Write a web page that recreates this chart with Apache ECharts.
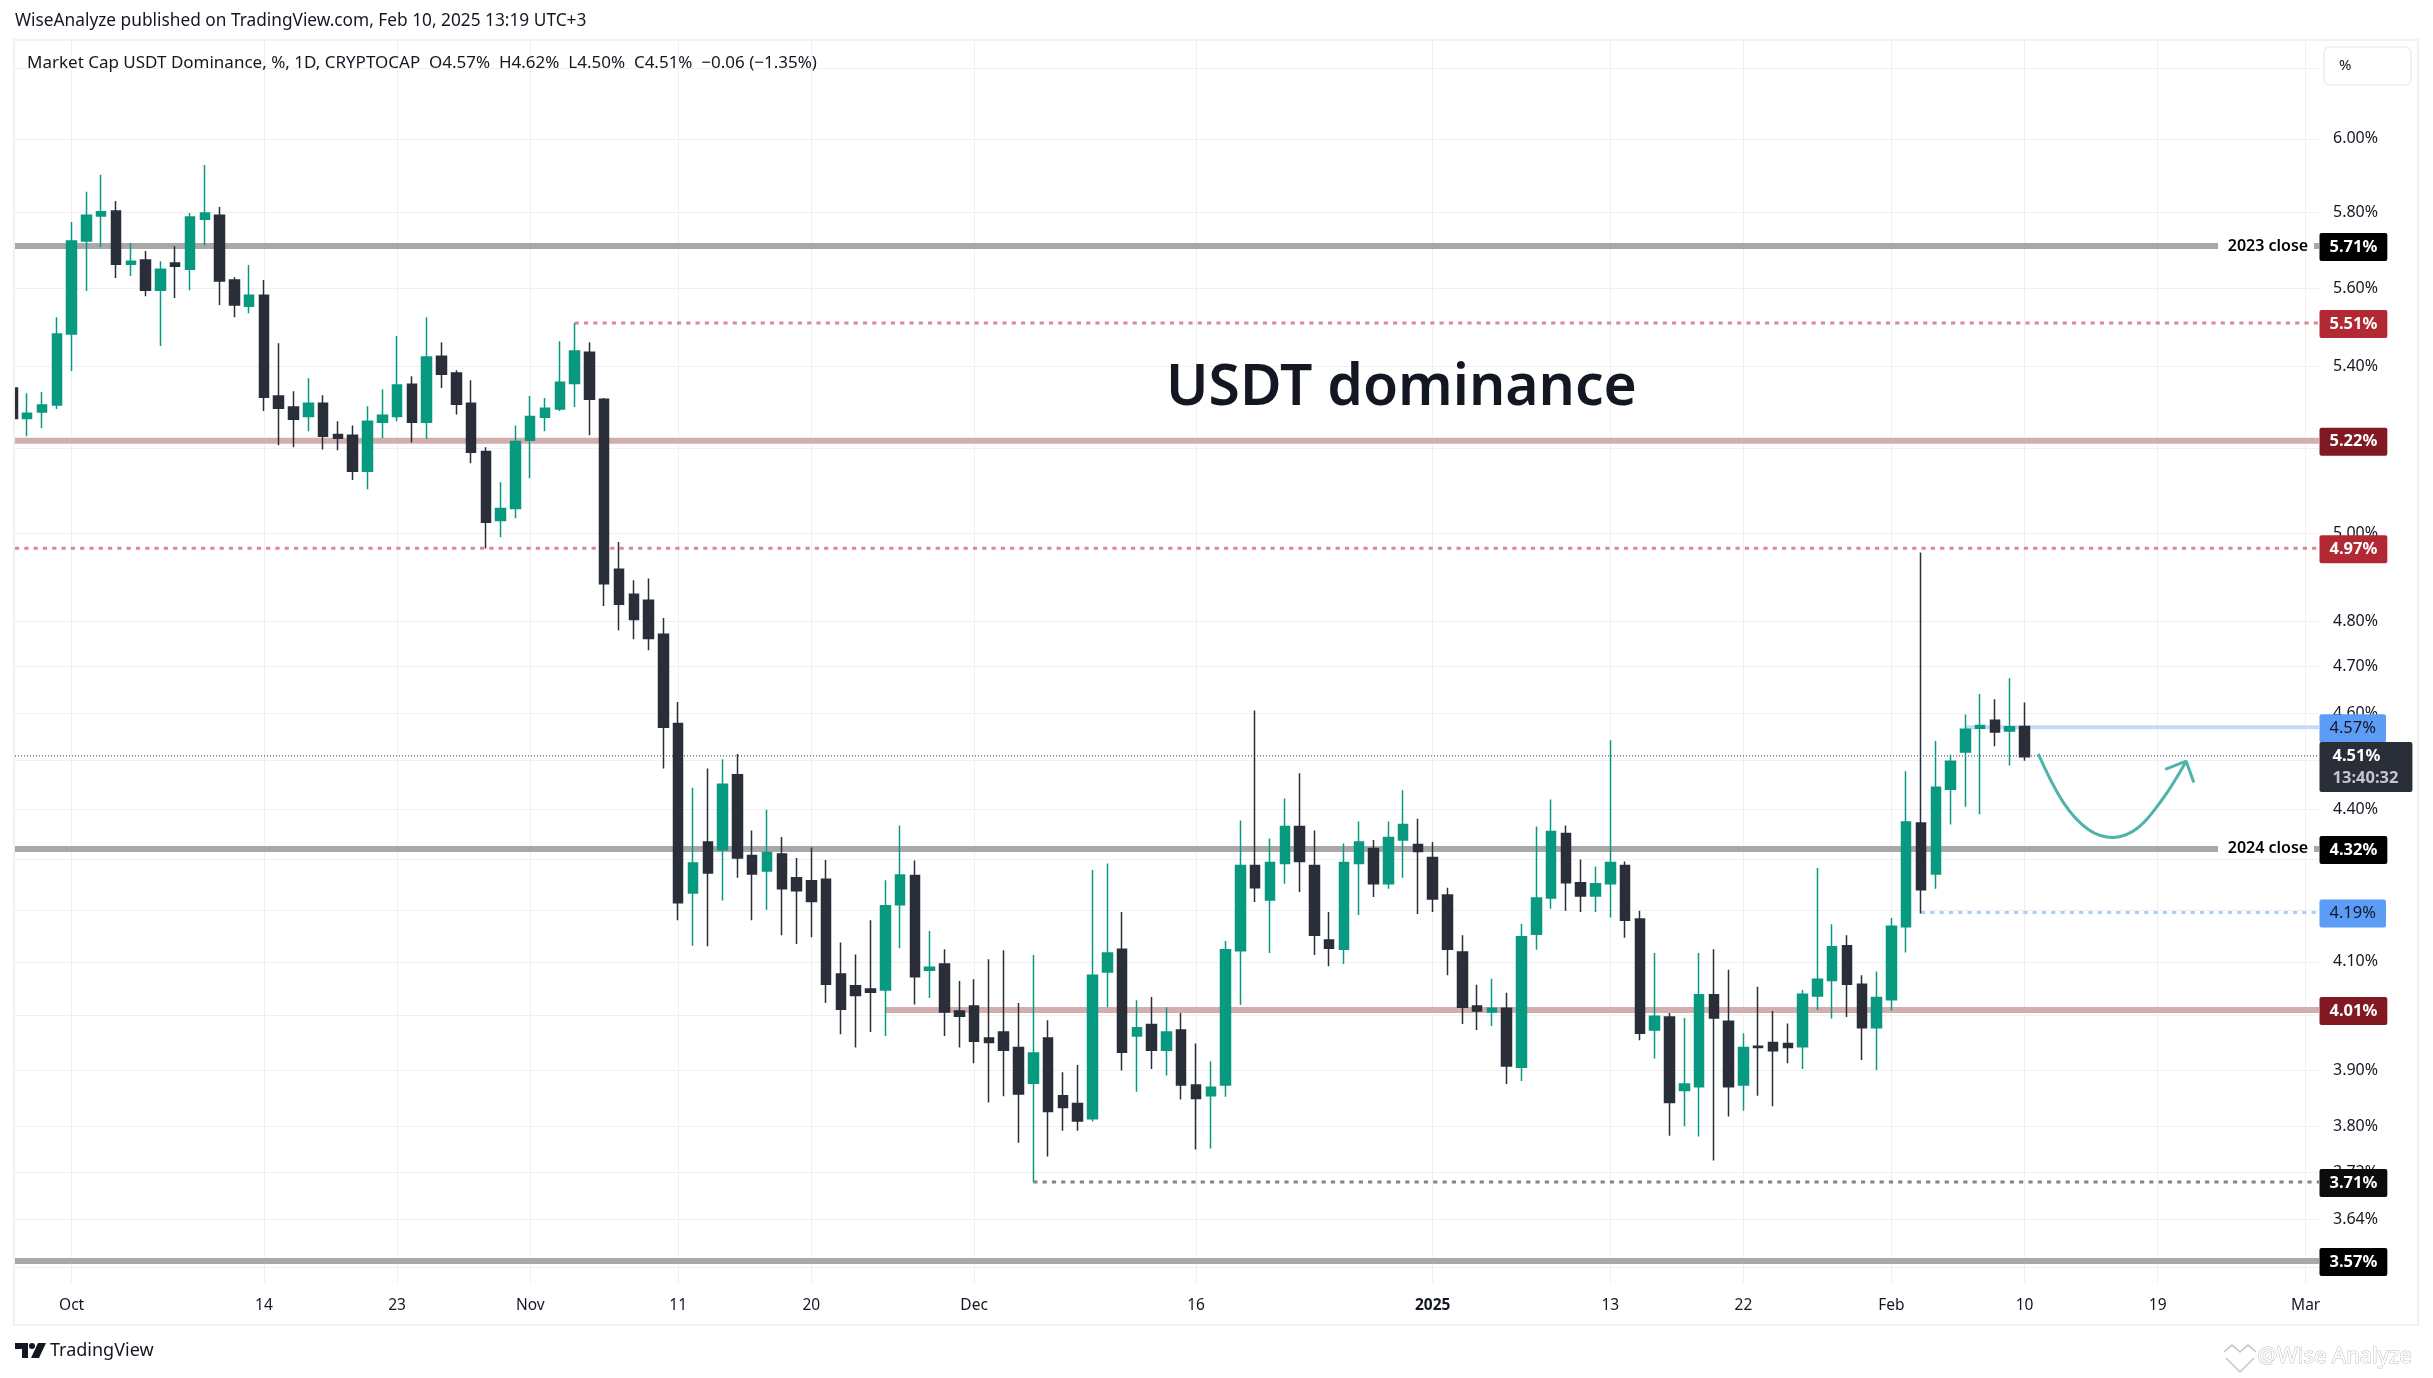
<!DOCTYPE html>
<html><head><meta charset="utf-8">
<style>html,body{margin:0;padding:0;background:#fff}#c{width:2433px;height:1378px}</style>
<script src="https://cdn.jsdelivr.net/npm/echarts@6/dist/echarts.min.js"></script>
</head><body><div id="c"></div>
<script>
// Candles, first one is 27 Sep 2024 (day -4, day 0 = 1 Oct 2024)
const firstDay = -4;
const opens = [5.347,5.272,5.288,5.305,5.482,5.723,5.790,5.803,5.662,5.673,5.594,5.665,5.649,5.781,5.792,5.621,5.553,5.581,5.327,5.300,5.277,5.309,5.233,5.231,5.145,5.263,5.277,5.356,5.263,5.426,5.384,5.309,5.192,5.029,5.057,5.219,5.275,5.295,5.358,5.436,
5.319,4.917,4.860,4.847,4.771,4.578,4.233,4.334,4.318,4.471,4.307,4.276,4.310,4.263,4.257,4.260,4.077,4.055,4.049,4.047,4.210,4.267,4.084,4.096,4.008,4.017,3.958,3.969,3.941,3.876,3.958,3.854,3.840,3.813,4.081,4.124,3.962,3.983,3.936,
3.973,3.873,3.854,3.873,4.121,4.287,4.219,4.291,4.365,4.287,4.142,4.124,4.291,4.321,4.251,4.338,4.329,4.303,4.229,4.119,4.017,4.006,4.013,3.905,4.153,4.223,4.351,4.253,4.227,4.251,4.287,4.182,3.973,3.997,3.863,3.870,4.038,3.989,3.873,3.943,3.950,3.948,
3.942,4.036,4.065,4.131,4.058,3.977,4.029,4.167,4.372,4.270,4.441,4.518,4.568,4.585,4.562,4.572];
const closes = [5.272,5.285,5.305,5.482,5.723,5.792,5.801,5.662,5.670,5.594,5.649,5.657,5.787,5.798,5.618,5.556,5.581,5.324,5.297,5.270,5.309,5.229,5.224,5.145,5.265,5.280,5.354,5.263,5.424,5.381,5.307,5.190,5.025,5.057,5.216,5.277,5.297,5.361,5.439,5.319,
4.884,4.838,4.804,4.762,4.570,4.214,4.292,4.272,4.451,4.302,4.270,4.313,4.241,4.237,4.216,4.058,4.011,4.037,4.043,4.208,4.268,4.072,4.090,4.006,3.998,3.952,3.950,3.936,3.857,3.931,3.826,3.833,3.809,4.075,4.117,3.932,3.977,3.936,3.969,
3.873,3.849,3.869,4.123,4.287,4.243,4.293,4.365,4.295,4.151,4.126,4.293,4.334,4.251,4.343,4.369,4.315,4.221,4.124,4.015,4.008,4.013,3.907,4.148,4.223,4.355,4.253,4.227,4.251,4.293,4.180,3.967,3.998,3.842,3.875,4.038,3.995,3.870,3.941,3.941,3.935,3.941,
4.039,4.067,4.129,4.058,3.977,4.033,4.168,4.374,4.239,4.445,4.499,4.566,4.574,4.560,4.571,4.508];
const lows = [5.26,5.229,5.248,5.295,5.389,5.592,5.707,5.626,5.631,5.579,5.452,5.574,5.594,5.712,5.556,5.525,5.535,5.290,5.207,5.202,5.241,5.197,5.195,5.124,5.102,5.224,5.265,5.214,5.222,5.347,5.282,5.164,4.964,4.990,5.034,5.128,5.241,5.290,5.300,5.231,
4.834,4.780,4.760,4.736,4.484,4.180,4.131,4.130,4.218,4.263,4.180,4.200,4.151,4.134,4.147,4.023,3.965,3.941,3.969,3.962,4.126,4.020,4.032,3.962,3.941,3.912,3.842,3.853,3.771,3.703,3.747,3.792,3.792,3.808,4.015,3.899,3.861,3.902,3.890,
3.847,3.759,3.761,3.852,4.019,4.215,4.117,4.251,4.235,4.113,4.092,4.096,4.190,4.225,4.241,4.263,4.192,4.196,4.075,3.984,3.973,3.980,3.875,3.880,4.123,4.202,4.198,4.196,4.196,4.185,4.146,3.954,3.921,3.783,3.800,3.782,3.740,3.817,3.827,3.854,3.835,3.912,
3.902,4.010,3.994,3.997,3.918,3.900,4.009,4.118,4.193,4.241,4.369,4.405,4.390,4.530,4.490,4.500];
const highs = [5.36,5.334,5.337,5.525,5.774,5.855,5.901,5.830,5.718,5.697,5.670,5.709,5.798,5.928,5.814,5.628,5.660,5.621,5.459,5.339,5.371,5.329,5.265,5.255,5.302,5.344,5.477,5.376,5.525,5.461,5.391,5.366,5.202,5.119,5.255,5.327,5.322,5.464,5.510,5.461,
5.322,4.979,4.892,4.896,4.807,4.624,4.444,4.484,4.503,4.514,4.357,4.399,4.344,4.302,4.323,4.298,4.137,4.114,4.180,4.258,4.367,4.297,4.159,4.124,4.064,4.067,4.105,4.122,4.023,4.113,3.991,3.896,3.909,4.278,4.291,4.196,4.028,4.034,4.015,
4.004,3.948,3.916,4.140,4.377,4.606,4.341,4.422,4.474,4.357,4.196,4.331,4.375,4.338,4.375,4.439,4.381,4.334,4.243,4.151,4.057,4.068,4.042,4.173,4.365,4.420,4.367,4.299,4.285,4.543,4.295,4.198,4.117,4.004,3.995,4.117,4.124,4.085,3.967,4.053,4.008,3.985,
4.047,4.282,4.172,4.151,4.075,4.082,4.184,4.478,4.955,4.541,4.513,4.597,4.641,4.630,4.675,4.623];

// Axis ticks
const xTickDays = [0,13,22,31,41,50,61,76,92,104,113,123,132,141,151];
const xTickText = ['Oct','14','23','Nov','11','20','Dec','16','{b|2025}','13','22','Feb','10','19','Mar'];
const yGridValues = [6.2,6,5.8,5.6,5.4,5.2,5,4.8,4.7,4.6,4.5,4.4,4.3,4.2,4.1,4,3.9,3.8,3.72,3.64,3.56];
const yLabelValues = [6,5.8,5.6,5.4,5,4.8,4.7,4.6,4.4,4.3,4.1,3.9,3.8,3.72,3.64];

// Horizontal levels (unrounded prices; badges show two decimals)
const levelPrices = [5.71,5.51,5.218,4.965,4.57,4.51,4.32,4.195,4.01,3.703,3.57];
const levelTexts  = ['5.71%','5.51%','5.22%','4.97%','4.57%','4.51%','4.32%','4.19%','4.01%','3.71%','3.57%'];
const levelBadge  = ['#000000','#b22833','#801922','#b22833','#5b9cf6','#2a2e39','#000000','#5b9cf6','#801922','#0c0c0c','#000000'];
const levelInk    = ['#fff','#fff','#fff','#fff','#131722','#fff','#fff','#131722','#fff','#fff','#fff'];
const levelLine   = ['#a8a8a8','#d98a94','#d3aeae','#d98a94','#c3daf9','#2a2e39','#a8a8a8','#aecff5','#d3aeae','#858585','#a8a8a8'];
const levelWidth  = [6,3,6,3,4,1,6,3,6,3,6];
const levelDash   = [null,[1.4,1.7],null,[1.4,1.7],null,[1,2],null,[1.4,1.7],null,[1.4,1.7],null];
const levelStart  = [null,34,null,null,128,null,null,125,55,65,null];
const levelNotes  = ['2023 close',null,null,null,null,null,'2024 close',null,null,null,null];

// Hand-drawn forecast arrow (day, price)
const arrowDays   = [132.93,134.62,136.31,138,139.69,141.38,142.93];
const arrowPrices = [4.514,4.414,4.359,4.343,4.363,4.423,4.499];
const headDays    = [141.5,142.93,143.44];
const headPrices  = [4.482,4.499,4.455];

const pxPerDay = 14.795, oct1Px = 71.6, leftPx = 15, rightPx = 2319;
const xMin = (leftPx - oct1Px) / pxPerDay, xMax = (rightPx - oct1Px) / pxPerDay;
const noteGapFrom = (2218 - oct1Px) / pxPerDay, noteGapTo = (2314 - oct1Px) / pxPerDay;
const noteDay = (2268 - oct1Px) / pxPerDay;

const FONT = '"Noto Sans", "Open Sans", sans-serif';
const chart = echarts.init(document.getElementById('c'), null, {renderer:'canvas', width:2433, height:1378});

const candleData = opens.map((o,i)=>[firstDay+i,o,closes[i],lows[i],highs[i]]);

const levelSeries = levelPrices.map((p,i)=>{
  const start = levelStart[i]===null ? xMin : levelStart[i];
  const d = levelNotes[i]
    ? [[start,p],[noteGapFrom,p],[null,null],[noteGapTo,p],[xMax,p]]
    : [[start,p],[xMax,p]];
  const w = levelWidth[i];
  return {type:'line',data:d,showSymbol:false,symbol:'none',silent:true,z:1,connectNulls:false,
    lineStyle:{color:levelLine[i],width:w,type:levelDash[i]?levelDash[i].map(x=>x*w):'solid',cap:'butt'}};
});

const badgeData = levelPrices.map((p,i)=>{
  const live = levelTexts[i]==='4.51%';
  return {value:[xMax,p],label:{
    show:true,position:'right',distance:0,opacity:1,
    formatter: live ? ['{a|'+levelTexts[i]+'}','{t|13:40:32}'].join('\n') : levelTexts[i],
    color:levelInk[i],backgroundColor:levelBadge[i],borderRadius:2,
    fontFamily:FONT,fontSize:16.5,fontWeight:levelInk[i]==='#fff'?700:400,
    padding: live ? [3,14,3,13] : [6,10,5,10], offset: live ? [0,11] : [0,1],
    rich: live ? {a:{color:'#fff',fontFamily:FONT,fontSize:16.5,fontWeight:700,lineHeight:22},
                  t:{color:'#c4c6cc',fontFamily:FONT,fontSize:16.5,fontWeight:700,lineHeight:22}} : undefined
  }};
});
const noteData = levelPrices.map((p,i)=>levelNotes[i]?{value:[noteDay,p],label:{
    show:true,position:'inside',opacity:1,formatter:levelNotes[i],color:'#000',fontFamily:FONT,fontSize:16,fontWeight:600
}}:null).filter(Boolean);

chart.setOption({
  animation:false,backgroundColor:'#fff',
  grid:{left:leftPx,right:2433-rightPx,top:41,bottom:95,containLabel:false},
  xAxis:{type:'value',min:xMin,max:xMax,
    axisLine:{show:false},
    axisTick:{show:false,customValues:xTickDays},
    splitLine:{show:true,lineStyle:{color:'#f0f0f0',width:1}},
    axisLabel:{customValues:xTickDays,margin:15,color:'#131722',fontFamily:FONT,fontSize:15.5,hideOverlap:false,showMinLabel:true,showMaxLabel:true,
      formatter:v=>{const k=xTickDays.indexOf(Math.round(v));return k<0?'':xTickText[k];},
      rich:{b:{fontFamily:FONT,fontSize:15.5,fontWeight:700,color:'#131722'}}}},
  yAxis:{type:'log',logBase:Math.E,min:3.534,max:6.278,position:'right',
    axisLine:{show:false},
    axisTick:{show:false,customValues:yGridValues},
    minorTick:{show:false},minorSplitLine:{show:false},
    splitLine:{show:true,lineStyle:{color:'#f0f0f0',width:1}},
    axisLabel:{customValues:yLabelValues,margin:14,color:'#131722',fontFamily:FONT,fontSize:16,padding:[6,0,0,0],hideOverlap:false,showMinLabel:true,showMaxLabel:true,
      formatter:v=>Number(v).toFixed(2)+'%'}},
  series:[
    ...levelSeries,
    {type:'candlestick',data:candleData,encode:{x:0,y:[1,2,3,4]},barWidth:10,z:3,silent:true,clip:true,
      itemStyle:{color:'#089981',color0:'#2a2e39',borderColor:'#089981',borderColor0:'#2a2e39',borderWidth:1.5}},
    {type:'line',data:arrowDays.map((d,i)=>[d,arrowPrices[i]]),smooth:0.35,symbol:'none',showSymbol:false,z:4,silent:true,
      lineStyle:{color:'#4fb3a9',width:3}},
    {type:'line',data:headDays.map((d,i)=>[d,headPrices[i]]),symbol:'none',showSymbol:false,z:4,silent:true,
      lineStyle:{color:'#4fb3a9',width:3}},
    {type:'scatter',data:badgeData,symbolSize:1,itemStyle:{color:'transparent',opacity:1},clip:false,z:10,silent:true},
    {type:'scatter',data:noteData,symbolSize:1,itemStyle:{color:'transparent',opacity:1},clip:false,z:10,silent:true}
  ],
  graphic:[
    {type:'rect',z:50,silent:true,shape:{x:0,y:41,width:14,height:1282},style:{fill:'#fff'}},
    {type:'rect',z:51,silent:true,shape:{x:14,y:40,width:2404,height:1285},style:{fill:'none',stroke:'#f0f1f3',lineWidth:2}},
    {type:'text',z:52,left:15,top:13,style:{text:'WiseAnalyze published on TradingView.com, Feb 10, 2025 13:19 UTC+3',fill:'#131722',font:'17.3px '+FONT}},
    {type:'text',z:52,left:27,top:55,style:{text:'Market Cap USDT Dominance, %, 1D, CRYPTOCAP  O4.57%  H4.62%  L4.50%  C4.51%  \u22120.06 (\u22121.35%)',fill:'#131722',font:'17px '+FONT}},
    {type:'text',left:1166,top:360,z:20,style:{text:'USDT dominance',fill:'#131722',font:'600 57px '+FONT}},
    {type:'rect',z:52,shape:{x:2324,y:47,width:87,height:38,r:6},style:{fill:'#fff',stroke:'#f0f1f3',lineWidth:2}},
    {type:'text',z:53,left:2339,top:58,style:{text:'%',fill:'#131722',font:'15px '+FONT}},
    // TradingView logo
    {type:'polygon',shape:{points:[[15,1343],[28,1343],[28,1358],[22,1358],[22,1349],[15,1349]]},style:{fill:'#131722'}},
    {type:'circle',shape:{cx:32,cy:1346,r:3},style:{fill:'#131722'}},
    {type:'polygon',shape:{points:[[38,1343],[46,1343],[39,1358],[31,1358]]},style:{fill:'#131722'}},
    {type:'text',left:50,top:1342,style:{text:'TradingView',fill:'#131722',font:'18px '+FONT}},
    // Watermark
    {type:'polyline',shape:{points:[[2224,1352],[2232,1345],[2240,1352],[2248,1345],[2256,1352]]},style:{fill:'none',stroke:'#c4c4c4',lineWidth:1.5}},
    {type:'polyline',shape:{points:[[2226,1358],[2240,1372],[2254,1358]]},style:{fill:'none',stroke:'#c4c4c4',lineWidth:1.5}},
    {type:'text',left:2257,top:1345,style:{text:'@Wise Analyze',fill:'#fff',stroke:'#bdbdbd',lineWidth:1,font:'22px '+FONT}}
  ]
});
</script></body></html>
